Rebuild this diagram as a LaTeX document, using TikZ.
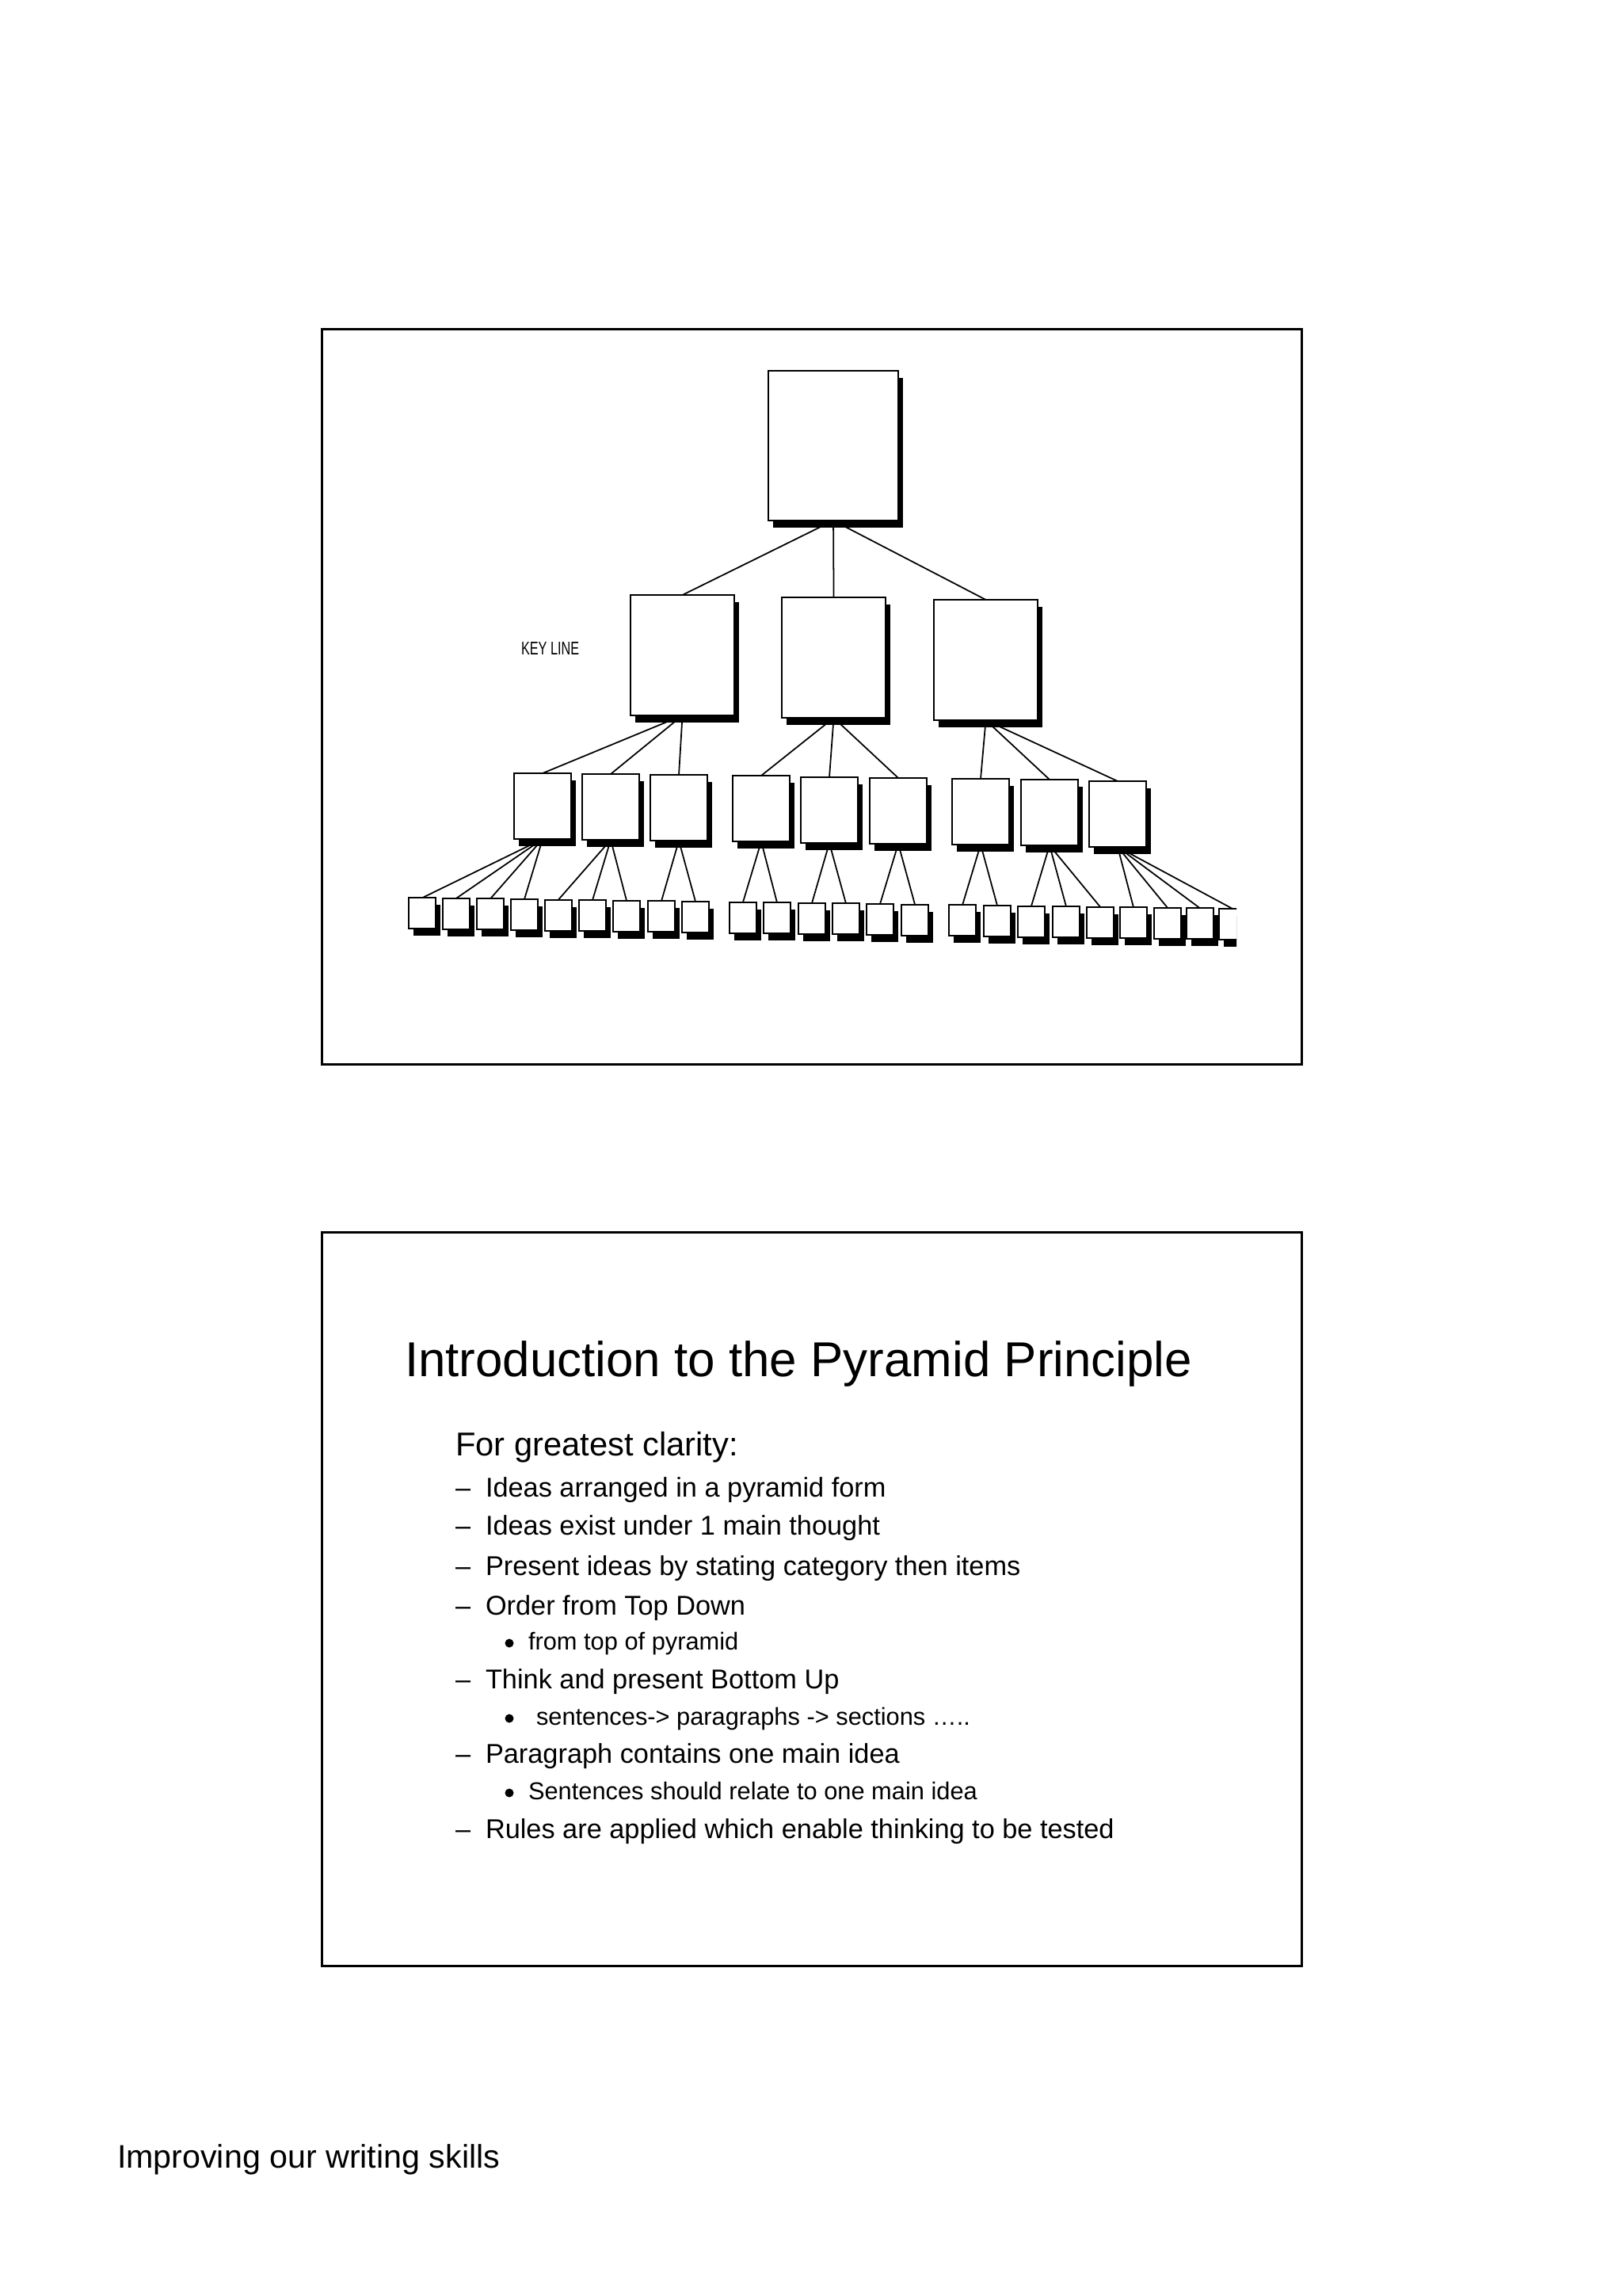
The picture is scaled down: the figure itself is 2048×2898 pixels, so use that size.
\documentclass[tikz,border=0pt]{standalone}
\usepackage{fontspec}
\usepackage{graphicx}
\setmainfont{Liberation Sans}
\usetikzlibrary{shadows}
\pgfdeclarelayer{paper}
\pgfdeclarelayer{bg}
\pgfsetlayers{paper,bg,main}
\begin{document}
\begin{tikzpicture}[x=0.01cm,y=-0.01cm,
  pbox/.style={draw=black, fill=white, line width=0.57pt, rectangle, inner sep=0pt, outer sep=0pt,
    anchor=north west, drop shadow={shadow xshift=0.06cm, shadow yshift=-0.09cm, fill=black, opacity=1}},
  topb/.style={pbox, minimum width=1.64cm, minimum height=1.89cm},
  midb/.style={pbox, minimum width=1.31cm, minimum height=1.52cm},
  thrb/.style={pbox, minimum width=0.72cm, minimum height=0.83cm},
  botb/.style={pbox, minimum width=0.34cm, minimum height=0.39cm},
  conn/.style={line width=0.5pt},
  frame/.style={draw=black, line width=0.85pt},
  txt/.style={anchor=base west, inner sep=0pt, outer sep=0pt},
  bul/.style={circle, fill=black, inner sep=0pt, minimum size=0.11cm},
  ttl/.style={txt, font=\fontsize{17.6pt}{20pt}\selectfont},
  hd/.style={txt, font=\fontsize{11.85pt}{14pt}\selectfont},
  lst/.style={txt, font=\fontsize{9.76pt}{12pt}\selectfont},
  sub/.style={txt, font=\fontsize{8.76pt}{11pt}\selectfont},
  ftr/.style={txt, font=\fontsize{11.72pt}{14pt}\selectfont},
  key/.style={txt, font=\fontsize{6.6pt}{8pt}\selectfont}
]
\useasboundingbox (0,0) rectangle (2048,2898);
\begin{pgfonlayer}{paper}
\fill[white] (0,0) rectangle (2048,2898);
\end{pgfonlayer}

% frames
\draw[frame] (406,416) rectangle (1643,1343);
\draw[frame] (406,1555) rectangle (1643,2481);

% pyramid
\begin{scope}
\clip (0,0) rectangle (1561,2898);
\node[topb] (top) at (970,468) {};
\node[midb] (m1) at (796,751) {};
\node[midb] (m2) at (987,754) {};
\node[midb] (m3) at (1179,757) {};
\foreach \n/\x/\y in {1/649/976, 2/735/977, 3/821/978, 4/925/979, 5/1011/981, 6/1098/982, 7/1202/983, 8/1289/984, 9/1375/986}
  \node[thrb] (t\n) at (\x,\y) {};
\foreach \n/\x in {1/516, 2/559, 3/602, 4/645, 5/688, 6/731, 7/774, 8/818, 9/861,
                   10/921, 11/964, 12/1008, 13/1051, 14/1094, 15/1138,
                   16/1198, 17/1242, 18/1285, 19/1329, 20/1372, 21/1414, 22/1457, 23/1498, 24/1539}
  \node[botb] (b\n) at (\x,{1135+(\x-645)*0.0134}) {};
\end{scope}

\begin{pgfonlayer}{bg}
\foreach \c in {m1,m2,m3}
  \draw[conn] (top.south) -- (\c.north);
\foreach \p/\c in {m1/t1, m1/t2, m1/t3, m2/t4, m2/t5, m2/t6, m3/t7, m3/t8, m3/t9}
  \draw[conn] (\p.south) -- (\c.north);
\foreach \p/\c in {t1/b1, t1/b2, t1/b3, t1/b4, t2/b5, t2/b6, t2/b7, t3/b8, t3/b9,
                   t4/b10, t4/b11, t5/b12, t5/b13, t6/b14, t6/b15,
                   t7/b16, t7/b17, t8/b18, t8/b19, t8/b20, t9/b21, t9/b22, t9/b23, t9/b24}
  \draw[conn] (\p.south) -- (\c.north);
\end{pgfonlayer}

\node[key] (keyline) at (658,827) {\scalebox{0.7}[1]{KEY LINE}};

% slide text
\node[ttl] (title) at (511,1737) {Introduction to the Pyramid Principle};
\node[hd] (head) at (575,1837) {For greatest clarity:};

\foreach \n/\y/\t in {1/1889/Ideas arranged in a pyramid form,
                      2/1937.5/Ideas exist under 1 main thought,
                      3/1988.5/Present ideas by stating category then items,
                      4/2038/Order from Top Down,
                      5/2131/Think and present Bottom Up,
                      6/2225/Paragraph contains one main idea,
                      7/2320/Rules are applied which enable thinking to be tested}
{
  \node[lst] (d\n) at (575,\y) {–};
  \node[lst] (l\n) at (613,\y) {\t};
}

\node[bul] (u1) at (643,2074) {};
\node[sub] (s1) at (667,2082) {from top of pyramid};
\node[bul] (u2) at (643,2169) {};
\node[sub] (s2) at (677,2177) {sentences-> paragraphs -> sections …..};
\node[bul] (u3) at (643,2263) {};
\node[sub] (s3) at (667,2271) {Sentences should relate to one main idea};

\node[ftr] (footer) at (148,2736) {Improving our writing skills};
\end{tikzpicture}
\end{document}
